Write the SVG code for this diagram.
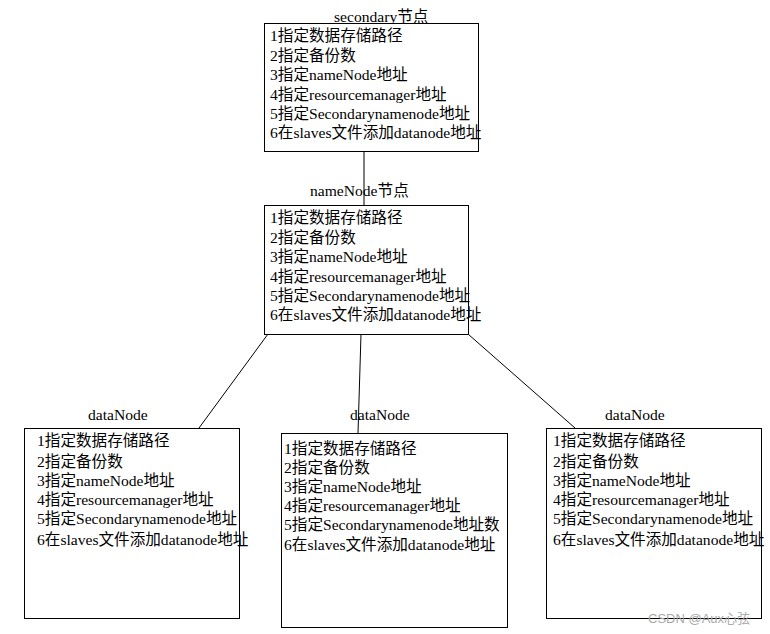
<svg xmlns="http://www.w3.org/2000/svg" width="770" height="634" viewBox="0 0 770 634">
<style>
.b{fill:#fff;stroke:#000;stroke-width:1}
.t{font-family:"Liberation Serif","Noto Sans CJK SC",serif;font-size:15.6px;fill:#000}
.l{stroke:#000;stroke-width:1;fill:none}
</style>
<rect width="770" height="634" fill="#fff"/>
<g id="connectors">
<line class="l" x1="364" y1="151" x2="364" y2="205"/>
<line class="l" x1="268" y1="334" x2="199" y2="428"/>
<line class="l" x1="361" y1="334" x2="358" y2="433"/>
<line class="l" x1="468" y1="334" x2="575" y2="428"/>
</g>
<g id="secondary">
<text class="t" x="334" y="22">secondary节点</text>
<rect class="b" x="264.5" y="23.5" width="214" height="128"/>
<text class="t" x="270" y="41">1指定数据存储路径</text>
<text class="t" x="270" y="61">2指定备份数</text>
<text class="t" x="270" y="80">3指定nameNode地址</text>
<text class="t" x="270" y="100">4指定resourcemanager地址</text>
<text class="t" x="270" y="119">5指定Secondarynamenode地址</text>
<text class="t" x="270" y="138">6在slaves文件添加datanode地址</text>
</g>
<g id="namenode">
<text class="t" x="310" y="196">nameNode节点</text>
<rect class="b" x="264.5" y="205.5" width="204" height="129"/>
<text class="t" x="270" y="223">1指定数据存储路径</text>
<text class="t" x="270" y="243">2指定备份数</text>
<text class="t" x="270" y="262">3指定nameNode地址</text>
<text class="t" x="270" y="282">4指定resourcemanager地址</text>
<text class="t" x="270" y="301">5指定Secondarynamenode地址</text>
<text class="t" x="270" y="320">6在slaves文件添加datanode地址</text>
</g>
<g id="datanode1">
<text class="t" x="88" y="420">dataNode</text>
<rect class="b" x="24.5" y="428.5" width="215" height="190"/>
<text class="t" x="37" y="446">1指定数据存储路径</text>
<text class="t" x="37" y="467">2指定备份数</text>
<text class="t" x="37" y="486">3指定nameNode地址</text>
<text class="t" x="37" y="505">4指定resourcemanager地址</text>
<text class="t" x="37" y="524">5指定Secondarynamenode地址</text>
<text class="t" x="37" y="545">6在slaves文件添加datanode地址</text>
</g>
<g id="datanode2">
<text class="t" x="350" y="420">dataNode</text>
<rect class="b" x="281.5" y="433.5" width="226" height="194"/>
<text class="t" x="284" y="454">1指定数据存储路径</text>
<text class="t" x="284" y="473">2指定备份数</text>
<text class="t" x="284" y="492">3指定nameNode地址</text>
<text class="t" x="284" y="511">4指定resourcemanager地址</text>
<text class="t" x="284" y="530">5指定Secondarynamenode地址数</text>
<text class="t" x="284" y="550">6在slaves文件添加datanode地址</text>
</g>
<g id="datanode3">
<text class="t" x="605" y="420">dataNode</text>
<rect class="b" x="546.5" y="428.5" width="215" height="190"/>
<text class="t" x="553" y="446">1指定数据存储路径</text>
<text class="t" x="553" y="467">2指定备份数</text>
<text class="t" x="553" y="486">3指定nameNode地址</text>
<text class="t" x="553" y="505">4指定resourcemanager地址</text>
<text class="t" x="553" y="524">5指定Secondarynamenode地址</text>
<text class="t" x="553" y="545">6在slaves文件添加datanode地址</text>
</g>
<text x="648" y="623" style="font-family:'Liberation Sans','Noto Sans CJK SC',sans-serif;font-size:13px;fill:#aaa">CSDN @Aux心弦</text>
</svg>
